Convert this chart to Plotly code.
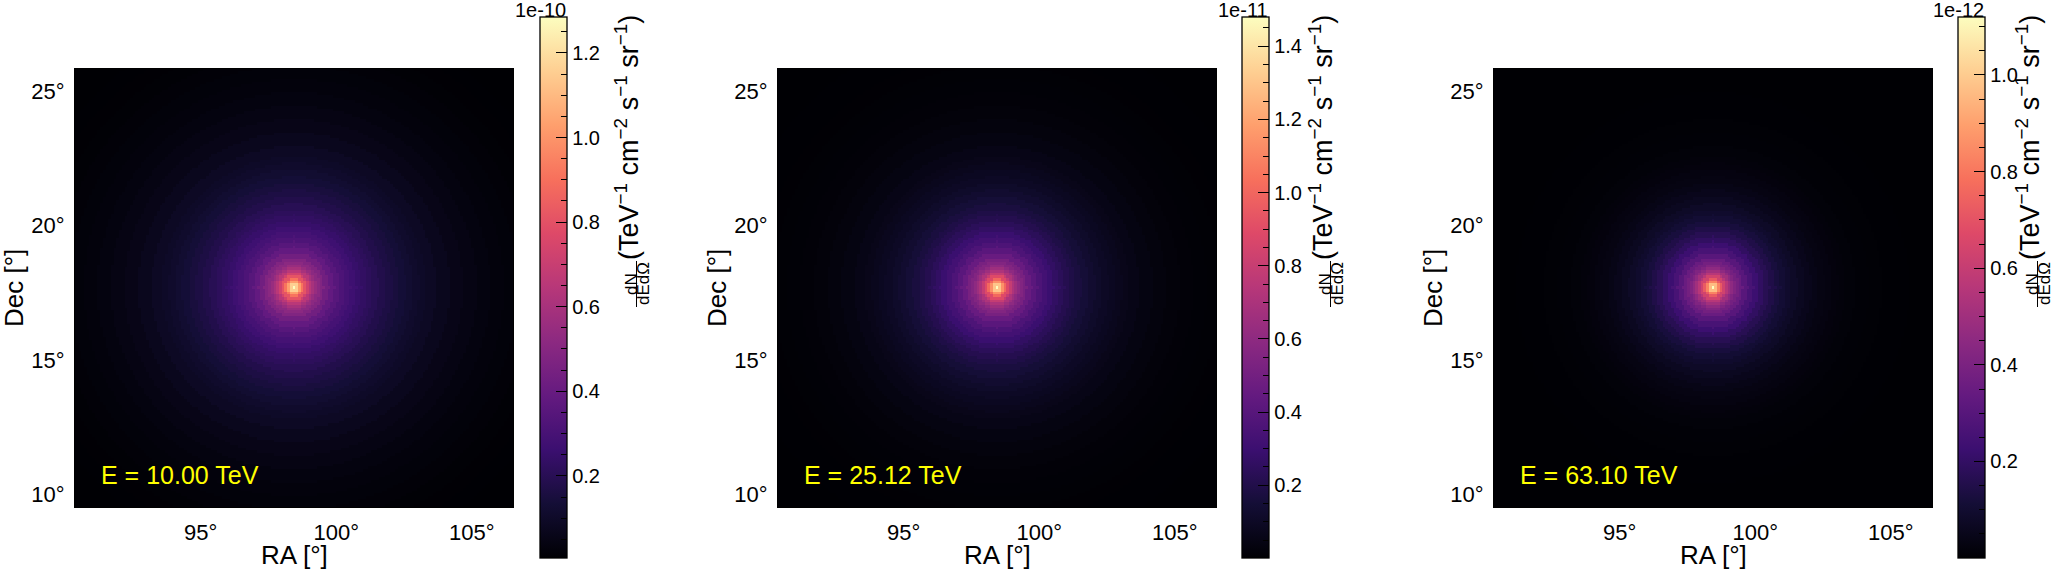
import numpy as np
import plotly.graph_objects as go

# ---------------- data ----------------
ENERGY_LABELS = ["E = 10.00 TeV", "E = 25.12 TeV", "E = 63.10 TeV"]
EXPONENTS = [-10, -11, -12]

# radial profile of the halo (deg from source) and the map value at that radius
PROFILE_RADII = [0.0, 0.1, 0.2, 0.3, 0.4, 0.5, 0.6, 0.7, 0.8, 0.9, 1.0,
                 1.2, 1.4, 1.6, 1.8, 2.0, 2.2, 2.4, 2.6, 2.8, 3.0,
                 3.25, 3.5, 3.75, 4.0, 4.25, 4.5, 4.75, 5.0,
                 5.5, 6.0, 6.5, 7.0, 7.5, 8.0, 8.5, 9.0, 9.5, 10.0, 10.5, 11.0, 11.5]
PROFILE_10TEV = [1.285, 1.157, 1.028, 0.912, 0.810, 0.726, 0.655, 0.598, 0.553, 0.514, 0.482,
                 0.430, 0.386, 0.350, 0.319, 0.293, 0.270, 0.249, 0.231, 0.215, 0.199,
                 0.181, 0.164, 0.149, 0.135, 0.122, 0.109, 0.098, 0.087,
                 0.069, 0.055, 0.044, 0.033, 0.026, 0.020, 0.0154, 0.0121, 0.0096, 0.0078,
                 0.0068, 0.0062, 0.0058]
PROFILE_25TEV = [1.48, 1.302, 1.140, 1.006, 0.888, 0.792, 0.710, 0.651, 0.599, 0.555, 0.518,
                 0.459, 0.407, 0.363, 0.326, 0.293, 0.263, 0.237, 0.213, 0.192, 0.173,
                 0.151, 0.132, 0.114, 0.099, 0.086, 0.074, 0.064, 0.055,
                 0.040, 0.028, 0.020, 0.014, 0.0099, 0.0070, 0.0050, 0.0037, 0.0027, 0.0019,
                 0.0015, 0.0012, 0.0010]
PROFILE_63TEV = [1.12, 0.963, 0.829, 0.722, 0.633, 0.560, 0.504, 0.454, 0.414, 0.381, 0.351,
                 0.302, 0.261, 0.226, 0.196, 0.169, 0.146, 0.125, 0.108, 0.092, 0.078,
                 0.064, 0.052, 0.041, 0.032, 0.026, 0.020, 0.0157, 0.0123,
                 0.0074, 0.0044, 0.0026, 0.0016, 0.0010, 0.0007, 0.0005, 0.00038, 0.00031,
                 0.00025, 0.00022, 0.0002, 0.00019]
PROFILES = [PROFILE_10TEV, PROFILE_25TEV, PROFILE_63TEV]

SOURCE_RA = 98.44
SOURCE_DEC = 17.70
PIXEL_DEG = 0.1
N_HALF = 82

X_TICKS = [95, 100, 105]
Y_TICKS = [10, 15, 20, 25]
CBAR_MAJOR = [[0.2, 0.4, 0.6, 0.8, 1.0, 1.2],
              [0.2, 0.4, 0.6, 0.8, 1.0, 1.2, 1.4],
              [0.2, 0.4, 0.6, 0.8, 1.0]]
CBAR_MINOR_STEP = 0.05

X_RANGE = [90.36, 106.52]
Y_RANGE = [9.54, 25.82]

# ---------------- layout geometry (pixels) ----------------
W, H = 2057, 570
FONT = "Liberation Sans, Arial, Helvetica, sans-serif"
panel_left = [75, 778, 1494]
panel_w = 438
panel_top, panel_bot = 69, 507
cb_left = [540, 1242, 1958]
cb_w = 27
cb_top, cb_bot = 17, 558
label_center = [627, 1321, 2028]

def px(x):
    return x / W

def py(y):
    return 1 - y / H

magma = [[0.0, "#000004"], [0.1, "#140e36"], [0.2, "#3b0f70"], [0.3, "#641a80"],
         [0.4, "#8c2981"], [0.5, "#b73779"], [0.6, "#de4968"], [0.7, "#f7705c"],
         [0.8, "#fe9f6d"], [0.9, "#fecf92"], [1.0, "#fcfdbf"]]
clear = [[0, "rgba(0,0,0,0)"], [1, "rgba(0,0,0,0)"]]

fig = go.Figure()
layout = dict(width=W, height=H, margin=dict(l=0, r=0, t=0, b=0),
              paper_bgcolor="white", plot_bgcolor="white",
              font=dict(family=FONT, color="black"), showlegend=False)
annotations = []
shapes = []

offsets = np.arange(-N_HALF, N_HALF + 1) * PIXEL_DEG
radii = np.array(PROFILE_RADII)
mids = (radii[1:] + radii[:-1]) / 2

for i in range(3):
    sfx = "" if i == 0 else str(i + 1)
    scale = 10.0 ** EXPONENTS[i]
    prof = np.array(PROFILES[i]) * scale
    xs = SOURCE_RA + offsets
    ys = SOURCE_DEC + offsets
    dx, dy = np.meshgrid(xs - SOURCE_RA, ys - SOURCE_DEC)
    r = np.sqrt(dx ** 2 + dy ** 2)
    idx = np.searchsorted(mids, r)
    z = prof[idx]
    zmin, zmax = float(z.min()), float(z.max())

    fig.add_trace(go.Heatmap(x=xs, y=ys, z=z, coloraxis="coloraxis" + ("" if i == 0 else str(i + 1)),
                             xaxis="x" + sfx, yaxis="y" + sfx, hoverinfo="skip", zsmooth=False))
    # transparent twin, only to carry the minor colorbar ticks
    fig.add_trace(go.Heatmap(x=[SOURCE_RA, SOURCE_RA + PIXEL_DEG], y=[SOURCE_DEC],
                             z=[[zmin, zmax]], coloraxis="coloraxis" + str(i + 4),
                             xaxis="x" + sfx, yaxis="y" + sfx, hoverinfo="skip", opacity=0))

    major = CBAR_MAJOR[i]
    minor = [k * CBAR_MINOR_STEP for k in range(1, 40)]
    minor = [m for m in minor if all(abs(m - M) > 1e-6 for M in major)
             and zmin <= m * scale <= zmax]

    cb_common = dict(x=px(cb_left[i]), xanchor="left", xpad=0, ypad=0,
                     y=py((cb_top + cb_bot) / 2), yanchor="middle",
                     len=(cb_bot - cb_top) / H, lenmode="fraction",
                     thickness=cb_w, thicknessmode="pixels")
    layout["coloraxis" + ("" if i == 0 else str(i + 1))] = dict(
        colorscale=magma, cmin=zmin, cmax=zmax,
        colorbar=dict(**cb_common, outlinewidth=1.3, outlinecolor="black",
                      ticks="inside", ticklen=11, tickwidth=1.2, tickcolor="black",
                      tickvals=[v * scale for v in major],
                      ticktext=["%.1f" % v for v in major],
                      tickfont=dict(size=20, family=FONT, color="black")))
    layout["coloraxis" + str(i + 4)] = dict(
        colorscale=clear, cmin=zmin, cmax=zmax,
        colorbar=dict(**cb_common, outlinewidth=0,
                      ticks="inside", ticklen=6, tickwidth=1.2, tickcolor="black",
                      tickvals=[v * scale for v in minor], showticklabels=False))

    xdom = [px(panel_left[i]), px(panel_left[i] + panel_w)]
    ydom = [py(panel_bot), py(panel_top)]
    layout["xaxis" + sfx] = dict(domain=xdom, range=X_RANGE, anchor="y" + sfx,
                                 tickvals=X_TICKS, ticktext=["%d°" % t for t in X_TICKS],
                                 ticks="", ticklabelstandoff=6, showgrid=False, zeroline=False,
                                 showline=True, linecolor="black", mirror=True,
                                 tickfont=dict(size=22, family=FONT, color="black"))
    layout["yaxis" + sfx] = dict(domain=ydom, range=Y_RANGE, anchor="x" + sfx,
                                 tickvals=Y_TICKS, ticktext=["%d°" % t for t in Y_TICKS],
                                 ticks="", ticklabelstandoff=5, showgrid=False, zeroline=False,
                                 showline=True, linecolor="black", mirror=True,
                                 tickfont=dict(size=22, family=FONT, color="black"))

    # panel texts
    annotations.append(dict(text=ENERGY_LABELS[i], x=px(panel_left[i] + 24), y=py(475),
                            xref="paper", yref="paper", xanchor="left", yanchor="middle",
                            showarrow=False, font=dict(size=25, color="#ffff00", family=FONT)))
    annotations.append(dict(text="RA [°]", x=px(panel_left[i] + panel_w / 2), y=py(555),
                            xref="paper", yref="paper", xanchor="center", yanchor="middle",
                            showarrow=False, font=dict(size=26, family=FONT)))
    annotations.append(dict(text="Dec [°]", x=px(panel_left[i] - 61), y=py(288),
                            xref="paper", yref="paper", xanchor="center", yanchor="middle",
                            textangle=-90, showarrow=False, font=dict(size=26, family=FONT)))
    annotations.append(dict(text="1e%d" % EXPONENTS[i], x=px(cb_left[i] + cb_w + 1), y=py(10),
                            xref="paper", yref="paper", xanchor="right", yanchor="middle",
                            showarrow=False, font=dict(size=20, family=FONT)))
    lc = label_center[i]
    annotations.append(dict(text="(TeV<sup>−1</sup> cm<sup>−2</sup> s<sup>−1</sup> sr<sup>−1</sup>)",
                            x=px(lc), y=py(138), xref="paper", yref="paper",
                            xanchor="center", yanchor="middle", textangle=-90,
                            showarrow=False, font=dict(size=27, family=FONT)))
    annotations.append(dict(text="dN", x=px(lc + 4), y=py(284), xref="paper", yref="paper",
                            xanchor="center", yanchor="middle", textangle=-90,
                            showarrow=False, font=dict(size=17, family=FONT)))
    annotations.append(dict(text="dEdΩ", x=px(lc + 16), y=py(284), xref="paper", yref="paper",
                            xanchor="center", yanchor="middle", textangle=-90,
                            showarrow=False, font=dict(size=17, family=FONT)))
    shapes.append(dict(type="line", xref="paper", yref="paper",
                       x0=px(lc + 9.5), x1=px(lc + 9.5), y0=py(261), y1=py(307),
                       line=dict(color="black", width=1)))

layout["annotations"] = annotations
layout["shapes"] = shapes
fig.update_layout(**layout)
fig.write_html("out.html")
